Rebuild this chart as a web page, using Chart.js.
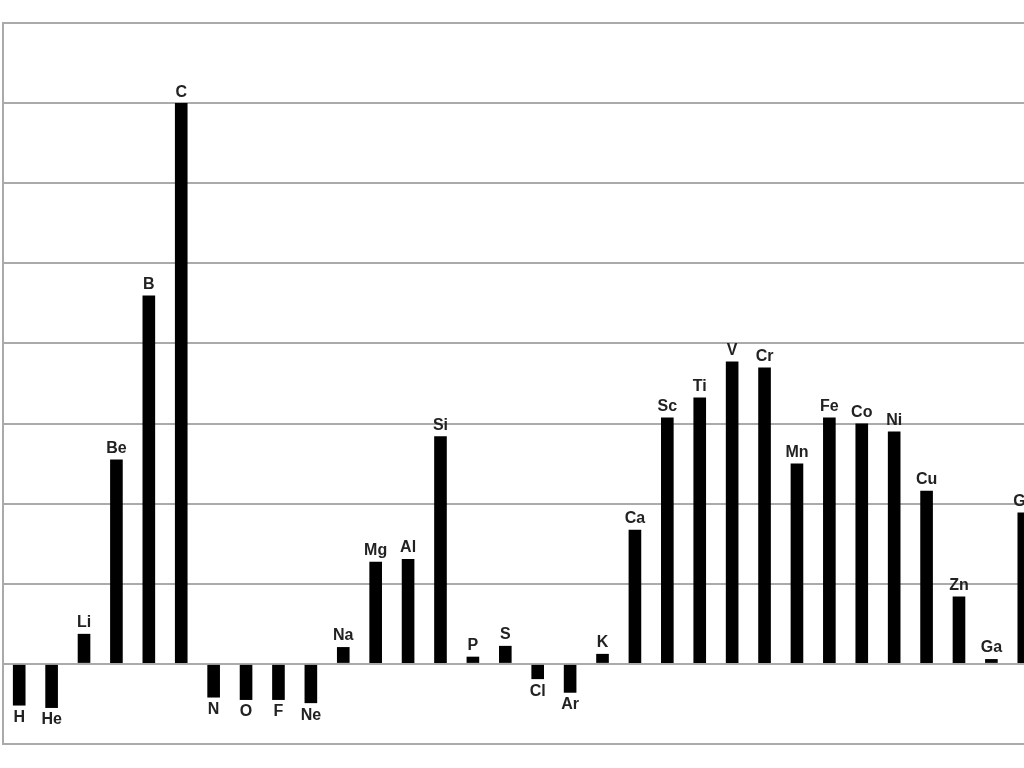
<!DOCTYPE html>
<html>
<head>
<meta charset="utf-8">
<script src="https://cdn.jsdelivr.net/npm/chart.js@4/dist/chart.umd.min.js"></script>
<style>
  html, body { margin: 0; padding: 0; background: #fff; overflow: hidden; }
  #wrap { position: absolute; left: 0; top: 0; width: 1042px; height: 768px; }
</style>
</head>
<body>
<div id="wrap"><canvas id="chart"></canvas></div>
<script>
// elements along the x axis
let elements = ["H","He","Li","Be","B","C","N","O","F","Ne","Na","Mg","Al","Si","P","S",
                "Cl","Ar","K","Ca","Sc","Ti","V","Cr","Mn","Fe","Co","Ni","Cu","Zn","Ga","Ge"];
// bar heights, one gridline = 1 unit
let values = [-0.52,-0.55,0.375,2.55,4.6,7.0,-0.42,-0.45,-0.45,-0.49,0.21,1.275,1.31,2.84,0.09,0.225,
              -0.19,-0.36,0.125,1.675,3.075,3.325,3.775,3.7,2.5,3.075,3.0,2.9,2.16,0.84,0.06,1.89];
let yMin = -1, yMax = 8;

// labels above/below each bar
let barLabels = {
    id: "barLabels",
    afterDatasetsDraw(chart) {
        let ctx = chart.ctx;
        let meta = chart.getDatasetMeta(0);
        ctx.save();
        ctx.font = "bold 16px 'Liberation Sans', Arial, sans-serif";
        ctx.fillStyle = "#222";
        ctx.textAlign = "center";
        meta.data.forEach((bar, i) => {
            let v = values[i];
            if (v >= 0) {
                ctx.textBaseline = "bottom";
                ctx.fillText(elements[i], bar.x, bar.y - 3);
            } else {
                ctx.textBaseline = "top";
                ctx.fillText(elements[i], bar.x, bar.y + 4);
            }
        });
        ctx.restore();
    }
};

new Chart(document.getElementById("chart"), {
    type: "bar",
    data: {
        labels: elements,
        datasets: [{ data: values, backgroundColor: "#000", borderWidth: 0, barPercentage: 0.39, categoryPercentage: 1 }]
    },
    options: {
        responsive: true,
        maintainAspectRatio: false,
        animation: false,
        layout: { padding: { top: 23, bottom: 24, left: 3, right: 2 } },
        plugins: { legend: { display: false }, tooltip: { enabled: false } },
        scales: {
            x: { display: false },
            y: {
                min: yMin, max: yMax,
                ticks: { display: false, stepSize: 1 },
                grid: { color: "#aaa", lineWidth: 2, drawTicks: false },
                border: { display: true, color: "#aaa", width: 2 }
            }
        }
    },
    plugins: [barLabels]
});
</script>
</body>
</html>
